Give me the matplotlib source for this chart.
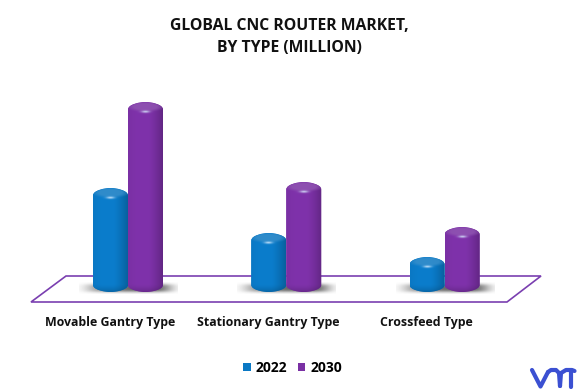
import numpy as np
import matplotlib
matplotlib.use("Agg")
import matplotlib.pyplot as plt
from matplotlib.path import Path
from matplotlib.patches import PathPatch, Polygon
from matplotlib.colors import to_rgb

categories = ["Movable Gantry Type", "Stationary Gantry Type", "Crossfeed Type"]
series_names = ["2022", "2030"]
values_2022 = [104, 59, 35]
values_2030 = [190, 110, 65]
colors = {"2022": "#0a78c4", "2030": "#7a30a4"}

W, H = 579, 390
plt.rcParams["font.family"] = ["Open Sans", "DejaVu Sans"]
fig = plt.figure(figsize=(W / 100, H / 100), dpi=100)

# decoration layer in pixels
deco = fig.add_axes([0, 0, 1, 1], zorder=0)
deco.set_xlim(0, W); deco.set_ylim(H, 0); deco.axis("off")
deco.add_patch(Polygon([(31, 302), (66, 276), (541, 276), (507, 302)], closed=True,
                       fill=False, edgecolor="#7a3fb0", lw=1.2))

BASE_PX = 292
GROUP0 = 128.0
STEP = 158.3
ax = fig.add_axes([0, (H - BASE_PX) / H, 1, 241 / H], zorder=1)
ax.patch.set_alpha(0)
xl = (-GROUP0 / STEP, (W - GROUP0) / STEP)
ax.set_xlim(*xl); ax.set_ylim(0, 241)
for s in ax.spines.values():
    s.set_visible(False)
ax.set_yticks([])
ax.set_xticks(np.arange(len(categories)) - 18 / STEP)
ax.set_xticklabels(categories, fontsize=8.95, fontweight="bold", color="#111111")
ax.tick_params(axis="x", length=0, pad=17)

bw = 35 / STEP
x = np.arange(len(categories))


def cyl_image(h_px, base, w_px=35):
    nv = int(h_px * 3)
    nu = int(w_px * 4)
    u = np.linspace(-1, 1, nu)[None, :]
    v = np.linspace(0, h_px, nv)[:, None]
    base = np.array(to_rgb(base))
    shade = 1.04 - 0.30 * np.clip(u - 0.15, 0, 1) ** 1.4 - 0.08 * np.clip(-u - 0.45, 0, 1) ** 1.2
    img = base[None, None, :] * shade[..., None]
    # upper cap, a soft lighter ellipse
    r = np.sqrt((u / 0.95) ** 2 + ((v - 4.5) / 4.5) ** 2)
    cap = np.clip((1.2 - r) / 0.5, 0, 1) * 0.85
    light = base * 0.80 + 0.18
    img = img * (1 - cap[..., None]) + light[None, None, :] * cap[..., None]
    # highlight
    hl = np.exp(-(u / 0.24) ** 2 - ((v - 9.5) / 1.1) ** 2)
    img = img * (1 - 0.85 * hl[..., None]) + np.array([0.85, 0.93, 1.0])[None, None, :] * 0.85 * hl[..., None]
    # bottom darkening
    bot = np.clip((v - (h_px - 8)) / 8, 0, 1) ** 1.5
    img = img * (1 - 0.18 * bot[..., None])
    return np.clip(img, 0, 1)


def cyl_path(x0, x1, top, bottom=0.0, ry=7.5, ryb=7.0):
    c = (x0 + x1) / 2
    k = 0.3
    dx = (x1 - x0) / 2
    return Path(
        [(x0, bottom + ryb), (x0, top - ry),
         (x0, top - ry * k), (c - dx * k, top), (c, top),
         (c + dx * k, top), (x1, top - ry * k), (x1, top - ry),
         (x1, bottom + ryb),
         (x1, bottom + ryb * k), (c + dx * k, bottom), (c, bottom),
         (c - dx * k, bottom), (x0, bottom + ryb * k), (x0, bottom + ryb),
         (x0, bottom + ryb)],
        [Path.MOVETO, Path.LINETO, Path.CURVE4, Path.CURVE4, Path.CURVE4,
         Path.CURVE4, Path.CURVE4, Path.CURVE4, Path.LINETO,
         Path.CURVE4, Path.CURVE4, Path.CURVE4, Path.CURVE4, Path.CURVE4, Path.CURVE4,
         Path.CLOSEPOLY])


# soft shadow below each group
for i in x:
    xs = np.linspace(-1, 1, 200)[None, :]
    ys = np.linspace(-1, 1, 60)[:, None]
    a = np.exp(-(np.abs(xs) / 0.85) ** 5 - (np.abs(ys) / 0.7) ** 3) * np.clip(0.8 + 0.25 * xs, 0, 1)
    rgba = np.zeros((60, 200, 4)); rgba[..., :3] = 0.27; rgba[..., 3] = a
    cx = i * STEP + GROUP0
    ax.imshow(rgba, extent=[(cx - 49 - GROUP0) / STEP, (cx + 50 - GROUP0) / STEP, -2, 10],
              aspect="auto", zorder=1, clip_on=False, interpolation="bilinear")

bars = {}
for name, vals, off in zip(series_names, (values_2022, values_2030), (-0.5, 0.5)):
    col = colors[name]
    bc = ax.bar(x + off * bw, vals, bw, color=col, label=name, zorder=2)
    bars[name] = bc
    for rect in bc:
        x0, w, h = rect.get_x(), rect.get_width(), rect.get_height()
        p = cyl_path(x0, x0 + w, h)
        patch = PathPatch(p, transform=ax.transData, fc="none", ec="none")
        ax.add_patch(patch)
        rect.set_clip_path(patch)
        im = ax.imshow(cyl_image(h, col), extent=[x0, x0 + w, 0, h], aspect="auto",
                       zorder=3, interpolation="bilinear")
        im.set_clip_path(patch)
ax.set_xlim(*xl); ax.set_ylim(0, 241)

# title
fig.text(289 / W, 1 - 37 / H, "GLOBAL CNC ROUTER MARKET,\nBY TYPE (MILLION)", ha="center", va="center",
         fontsize=11.3, fontweight="bold", color="#111111", linespacing=1.5)

# legend
leg = fig.legend(handles=[bars[n][0] for n in series_names], labels=series_names, ncols=2,
                 loc="center", bbox_to_anchor=(292.5 / W, 1 - 368 / H), frameon=False,
                 prop={"size": 10, "weight": "bold"}, handlelength=0.55, handleheight=0.55,
                 handletextpad=0.35, columnspacing=0.75)

# logo
logo_c = "#3b50d2"
kw = dict(color=logo_c, lw=3.0, solid_capstyle="round", solid_joinstyle="round")
deco.plot([532, 540.5, 548], [370, 386.5, 372], **kw)
deco.plot([548, 551, 556, 559, 560], [372, 370, 370, 373, 386], **kw)
deco.plot([560, 561, 566, 572, 574.5], [386, 373, 370, 370, 371], **kw)
deco.plot([570.5, 570.5], [371, 386.5], **kw)

fig.savefig("out.png", dpi=100)
